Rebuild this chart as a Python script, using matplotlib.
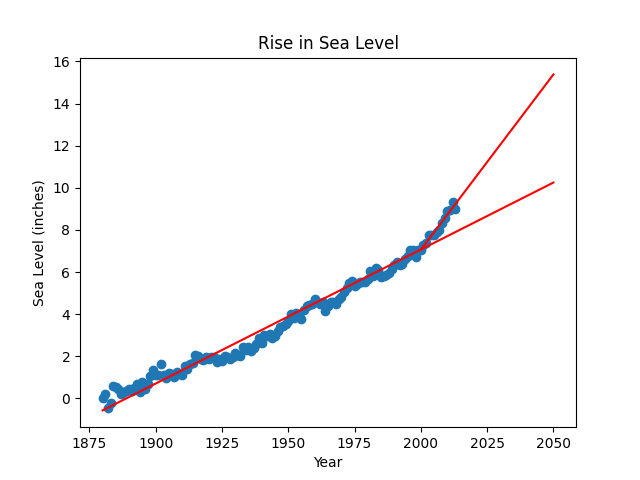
import matplotlib
matplotlib.use('Agg')
import matplotlib.pyplot as plt
import numpy as np

years = list(range(1880, 2014))
sea_level = [
    0.0, 0.220472, -0.440945, -0.232283, 0.590551, 0.531496, 0.437008, 0.216535, 0.299213, 0.362205,
    0.440945, 0.374016, 0.5, 0.685039, 0.30315, 0.767717, 0.468504, 0.673228, 1.043307, 1.338583,
    1.125984, 1.110236, 1.613386, 1.10315, 0.968504, 1.224409, 1.15748, 1.020472, 1.251969, 1.181102,
    1.106299, 1.547244, 1.413386, 1.614173, 1.692913, 2.066929, 2.023622, 1.893701, 1.807087, 1.980315,
    1.870079, 1.980315, 1.980315, 1.708661, 1.862205, 1.799213, 2.015748, 1.980315, 1.874016, 1.952756,
    2.141732, 2.059055, 2.011811, 2.444882, 2.275591, 2.444882, 2.255906, 2.370079, 2.586614, 2.874016,
    2.649606, 3.011811, 2.980315, 3.066929, 2.858268, 2.940945, 3.177165, 3.397638, 3.456693, 3.555118,
    3.665354, 3.996063, 3.830709, 4.051181, 3.948819, 3.775591, 4.212598, 4.389764, 4.456693, 4.476378,
    4.728346, 4.562992, 4.496063, 4.559055, 4.165354, 4.377953, 4.562992, 4.582677, 4.496063, 4.73622,
    4.80315, 5.055118, 5.244094, 5.468504, 5.555118, 5.346457, 5.433071, 5.523622, 5.531496, 5.511811,
    5.688976, 6.062992, 5.807087, 6.208661, 6.108268, 5.759843, 5.807087, 5.838583, 5.944882, 6.165354,
    6.326772, 6.484252, 6.354331, 6.366142, 6.598425, 6.755906, 7.051181, 7.051181, 6.73622, 7.066929,
    7.062992, 7.287402, 7.38189, 7.759843, 7.740157, 7.744094, 7.917323, 7.996063, 8.350394, 8.586614,
    8.901575, 8.964567, 9.326772, 8.980315,
]

x = np.array(years)
y = np.array(sea_level)

fig, ax = plt.subplots(figsize=(6.4, 4.8), dpi=100)
ax.scatter(x, y)

# line of best fit over all years, extended to 2050
slope, intercept = np.polyfit(x, y, 1)
x_all = np.arange(1880, 2051)
ax.plot(x_all, slope * x_all + intercept, 'r')

# line of best fit from 2000 on
mask = x >= 2000
slope2, intercept2 = np.polyfit(x[mask], y[mask], 1)
x_recent = np.arange(2000, 2051)
ax.plot(x_recent, slope2 * x_recent + intercept2, 'r')

ax.set_xlabel('Year')
ax.set_ylabel('Sea Level (inches)')
ax.set_title('Rise in Sea Level')

fig.savefig('out.png')
